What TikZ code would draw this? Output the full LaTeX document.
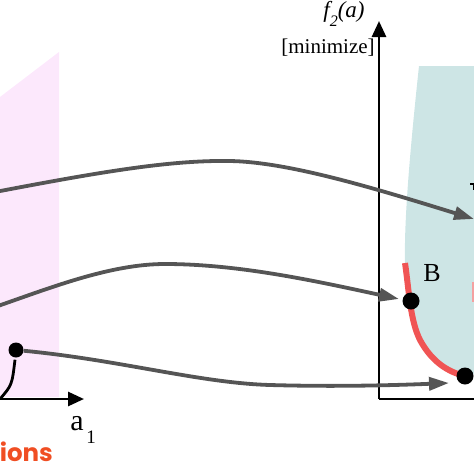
\documentclass[tikz,border=0pt]{standalone}
\usepackage{fontspec}
\setmainfont{Liberation Serif}
\newfontfamily\geofont{Poppins}
\usetikzlibrary{arrows.meta}
\definecolor{pinkfill}{RGB}{252,232,252}
\definecolor{tealfill}{RGB}{205,229,229}
\definecolor{mapgray}{RGB}{85,85,85}
\definecolor{paretored}{RGB}{240,84,84}
\definecolor{palered}{RGB}{244,160,160}
\definecolor{labelorange}{RGB}{240,78,35}
\tikzset{
  maparrow/.style={draw=mapgray, line width=3.8pt, -{Triangle[length=20pt,width=13pt]}},
  axisline/.style={draw=black, line width=2.8pt},
  axisarrow/.style={axisline, -{Triangle[length=16pt,width=14pt]}},
  dotnode/.style={circle, fill=black, inner sep=0pt, minimum size=15pt},
  bigdot/.style={circle, fill=black, inner sep=0pt, minimum size=17pt},
  serifl/.style={inner sep=0pt, font=\fontsize{20}{24}\selectfont},
}
\begin{document}
\begin{tikzpicture}[x=1pt,y=-1pt]
\useasboundingbox (0,0) rectangle (474,474);
% regions
\fill[pinkfill] (0,97) -- (59,52) -- (59,397) -- (0,397) -- cycle;
\fill[tealfill] (419,66) -- (480,66) -- (480,372) -- (465,376)
  .. controls (448,372) and (432,362) .. (420,340)
  .. controls (410,320) and (409,290) .. (405,263)
  .. controls (404,220) and (410,150) .. (419,66) -- cycle;
\fill[palered] (472,282) rectangle (476,302);
% axes
\coordinate (vbot) at (379,399);
\coordinate (vtop) at (379,21);
\coordinate (hend) at (480,399);
\draw[axisarrow] (vbot) -- (vtop);
\draw[axisline] (vbot) -- (hend);
\coordinate (a1start) at (-2,399);
\coordinate (a1end) at (84,399);
\draw[axisarrow] (a1start) -- (a1end);
% pareto front
\coordinate (pfTop) at (405,263);
\draw[paretored, line width=6pt] (pfTop)
  .. controls (409,290) and (410,320) .. (420,340)
  .. controls (432,362) and (448,372) .. (465,376);
\node[bigdot] (B) at (411,301) {};
\node[bigdot] (C) at (465,376) {};
\node[serifl, font=\fontsize{26}{28}\selectfont] (Blabel) at (432,273) {B};
% clipped label fragment
\draw[black, line width=1.2pt] (470,184) -- (476,184);
\draw[black, line width=1.2pt] (473.5,184) -- (473.5,190);
% decision point
\node[dotnode] (p3) at (16,350) {};
\coordinate (arcend) at (0,399);
\draw[black, line width=2.8pt] (p3.south) ++(-1,2) .. controls (12,385) .. (arcend);
% mapping arrows
\coordinate (s1) at (-5,192);
\coordinate (t1) at (474,219);
\draw[maparrow] (s1) .. controls (100,172) and (170,160) .. (230,161)
  .. controls (290,162) and (380,190) .. (t1);
\coordinate (s2) at (-5,307);
\coordinate (t2) at (399,299);
\draw[maparrow] (s2) .. controls (50,288) and (110,264) .. (165,264)
  .. controls (240,264) and (320,282) .. (t2);
\coordinate (t3) at (449,383);
\draw[maparrow] (p3) .. controls (120,360) and (200,383) .. (270,385)
  .. controls (340,387) and (400,385) .. (t3);
% labels
\node[serifl, font=\fontsize{23}{26}\selectfont] (f2) at (344,14) {\itshape f\raisebox{-0.4em}{\fontsize{16}{16}\selectfont 2}(a)};
\node[serifl, font=\fontsize{21}{24}\selectfont] (minimize) at (328,48) {[minimize]};
\node[serifl, font=\fontsize{30}{32}\selectfont, anchor=base] (a1) at (77,430) {a};
\node[serifl, font=\fontsize{19}{20}\selectfont, anchor=base] (one) at (91,443) {1};
\node[inner sep=0pt, anchor=east, text=labelorange, font=\geofont\bfseries\fontsize{24.5}{28}\selectfont] (ions) at (53,452) {ions};
\end{tikzpicture}
\end{document}
